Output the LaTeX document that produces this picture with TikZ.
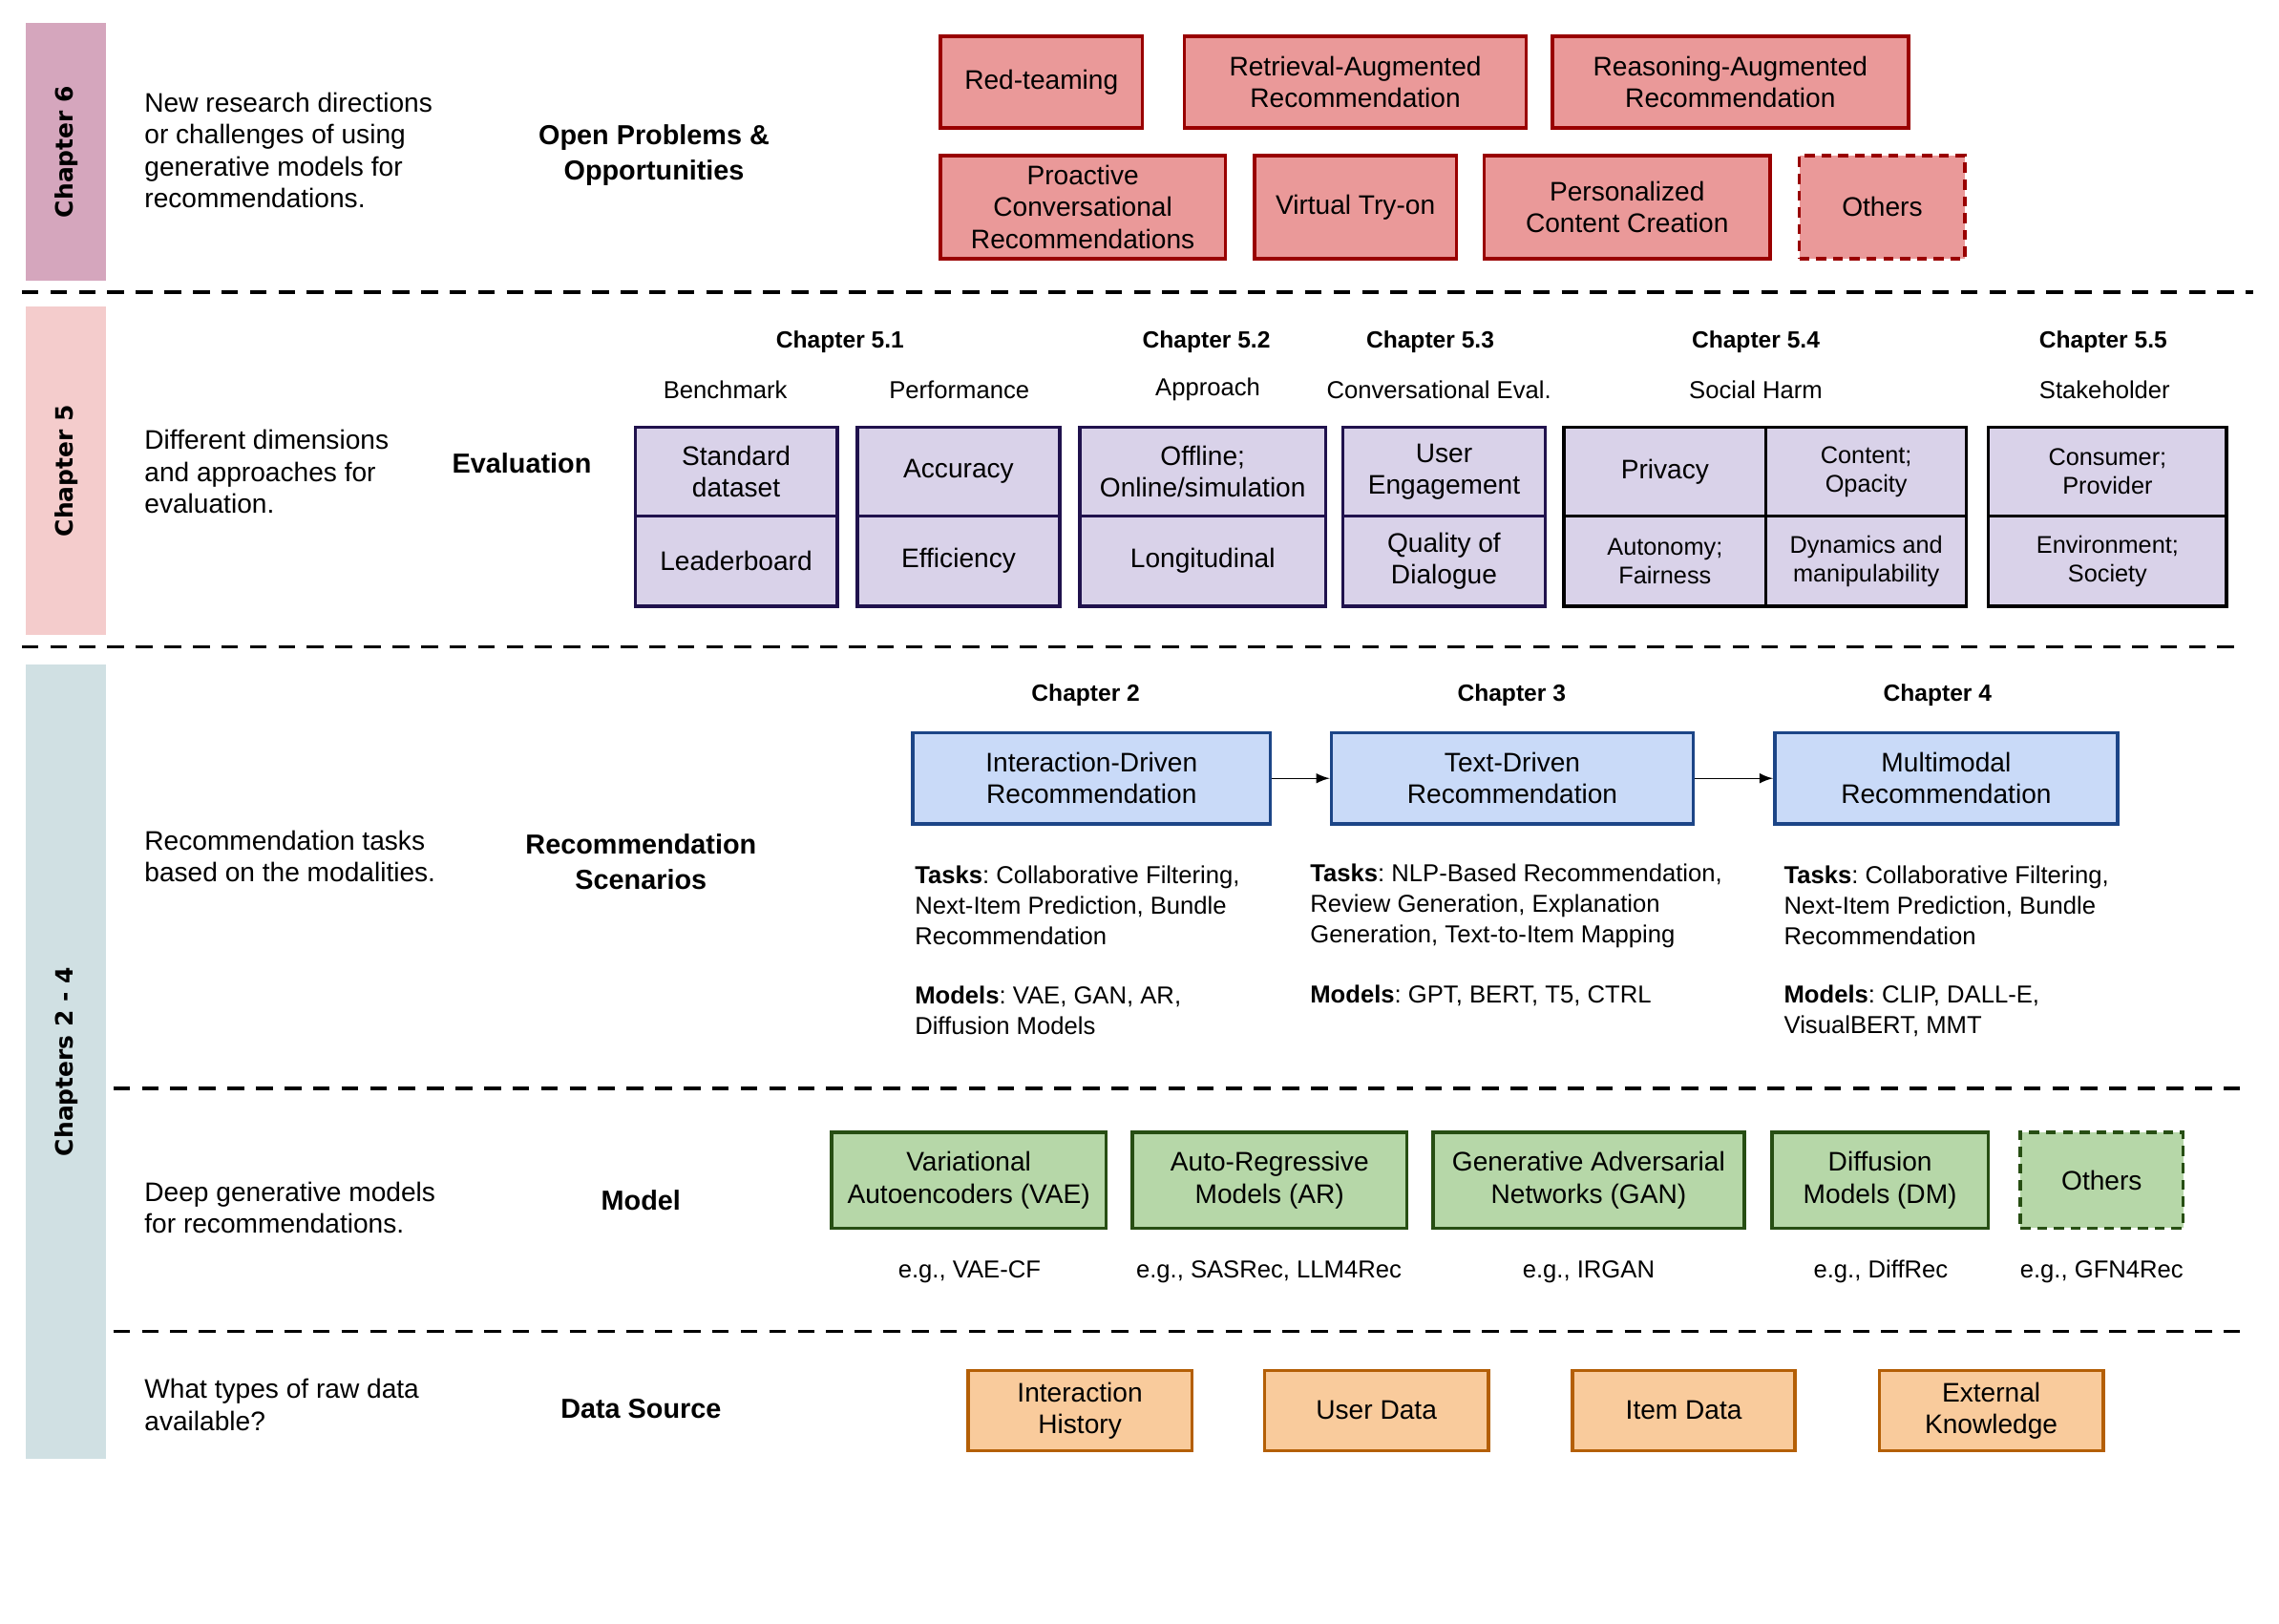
\documentclass[tikz,border=0pt]{standalone}
\usepackage{fontspec}
\setmainfont{Liberation Sans}
\newfontfamily\barfont{DejaVu Sans}
\usepackage{tikz}
\usepackage{xcolor}
\frenchspacing
\definecolor{chSixBar}{HTML}{D5A6BD}
\definecolor{chFiveBar}{HTML}{F4CCCC}
\definecolor{chTwoBar}{HTML}{D0E0E3}
\definecolor{redFill}{HTML}{EA9999}
\definecolor{redLine}{HTML}{990000}
\definecolor{evalFill}{HTML}{D9D2E9}
\definecolor{evalLine}{HTML}{20124D}
\definecolor{scenFill}{HTML}{C9DAF8}
\definecolor{scenLine}{HTML}{1C4587}
\definecolor{modelFill}{HTML}{B6D7A8}
\definecolor{modelLine}{HTML}{274E13}
\definecolor{dataFill}{HTML}{F9CB9C}
\definecolor{dataLine}{HTML}{B45F06}
\tikzset{
    box-size/.style 2 args = {minimum width=#1*0.015223cm, minimum height=#2*0.015223cm},
    chapter-bar/.style = {rectangle, inner sep=0pt, rotate=90, font=\barfont\bfseries\fontsize{7.1}{9}\selectfont},
    topic-box/.style = {rectangle, inner sep=1pt, line width=1pt, align=center, font=\fontsize{8}{9.5}\selectfont},
    red-box/.style = {topic-box, draw=redLine, fill=redFill},
    eval-box/.style = {topic-box, draw=evalLine, fill=evalFill},
    scen-box/.style = {topic-box, draw=scenLine, fill=scenFill},
    model-box/.style = {topic-box, draw=modelLine, fill=modelFill},
    data-box/.style = {topic-box, draw=dataLine, fill=dataFill},
    other-box/.style = {dash pattern=on 3pt off 2pt},
    small-text/.style = {font=\fontsize{7.2}{8.6}\selectfont},
    desc-text/.style = {anchor=west, align=left, inner sep=0pt, font=\fontsize{8}{9.5}\selectfont},
    row-title/.style = {align=center, inner sep=0pt, font=\bfseries\fontsize{8.2}{10.5}\selectfont},
    chap-title/.style = {inner sep=0pt, font=\bfseries\fontsize{7}{8}\selectfont},
    sub-title/.style = {inner sep=0pt, font=\fontsize{7.3}{8.5}\selectfont},
    task-text/.style = {anchor=west, align=left, inner sep=0pt, font=\fontsize{7.3}{9.1}\selectfont},
    separator/.style = {line width=1.1pt, dash pattern=on 5pt off 3.5pt},
}

\begin{document}
\begin{tikzpicture}[x=0.015223cm, y=-0.015223cm]
\useasboundingbox (0,0) rectangle (1568,1117);

\node[chapter-bar, fill=chSixBar, box-size={177}{55}] (ch6) at (45.5,104.5) {Chapter 6};
\node[chapter-bar, fill=chFiveBar, box-size={226}{55}] (ch5) at (45.5,324) {Chapter 5};
\node[chapter-bar, fill=chTwoBar, box-size={547}{55}] (ch24) at (45.5,730.5) {Chapters 2 - 4};

\draw[separator] (15,201) -- (1550,201);
\draw[separator] (15,445) -- (1540,445);
\draw[separator] (78,749) -- (1547,749);
\draw[separator] (78,916) -- (1547,916);

\node[desc-text] (desc6) at (99,103.5) {New research directions\\or challenges of using\\generative models for\\recommendations.};
\node[row-title] (open) at (450,107) {Open Problems \&\\Opportunities};

\node[red-box, box-size={139}{63}] (redteam) at (716.5,56.5) {Red-teaming};
\node[red-box, box-size={235}{63}] (retrieval) at (932.5,56.5) {Retrieval-Augmented\\Recommendation};
\node[red-box, box-size={245}{63}] (reasoning) at (1190.5,56.5) {Reasoning-Augmented\\Recommendation};
\node[red-box, box-size={196}{71}] (proactive) at (745,142.5) {Proactive\\Conversational\\Recommendations};
\node[red-box, box-size={139}{71}] (tryon) at (932.5,142.5) {Virtual Try-on};
\node[red-box, box-size={197}{71}] (creation) at (1119.5,142.5) {Personalized\\Content Creation};
\node[red-box, other-box, box-size={114}{71}] (others6) at (1295,142.5) {Others};

\node[desc-text] (desc5) at (99,324.5) {Different dimensions\\and approaches for\\evaluation.};
\node[row-title] (evaluation) at (359,319) {Evaluation};

\node[chap-title] (ch51) at (578,235) {Chapter 5.1};
\node[chap-title] (ch52) at (830,235) {Chapter 5.2};
\node[chap-title] (ch53) at (984,235) {Chapter 5.3};
\node[chap-title] (ch54) at (1208,235) {Chapter 5.4};
\node[chap-title] (ch55) at (1447,235) {Chapter 5.5};
\node[sub-title] (benchmark) at (499,268) {Benchmark};
\node[sub-title] (performance) at (660,268) {Performance};
\node[sub-title] (approach) at (831,268) {Approach};
\node[sub-title] (conversational) at (990,268) {Conversational Eval.};
\node[sub-title] (harm) at (1208,268) {Social Harm};
\node[sub-title] (stakeholder) at (1448,268) {Stakeholder};

\node[eval-box, box-size={139}{61}] (dataset) at (506.5,324.5) {Standard\\dataset};
\node[eval-box, box-size={139}{62}] (leaderboard) at (506.5,386) {Leaderboard};
\node[eval-box, box-size={139}{61}] (accuracy) at (659.5,324.5) {Accuracy};
\node[eval-box, box-size={139}{62}] (efficiency) at (659.5,386) {Efficiency};
\node[eval-box, box-size={169}{61}] (offline) at (827.5,324.5) {Offline;\\Online/simulation};
\node[eval-box, box-size={169}{62}] (longitudinal) at (827.5,386) {Longitudinal};
\node[eval-box, box-size={139}{61}] (engagement) at (993.5,324.5) {User\\Engagement};
\node[eval-box, box-size={139}{62}] (dialogue) at (993.5,386) {Quality of\\Dialogue};
\node[eval-box, draw=black, box-size={139}{61}] (privacy) at (1145.5,324.5) {Privacy};
\node[eval-box, draw=black, small-text, box-size={139}{62}] (autonomy) at (1145.5,386) {Autonomy;\\Fairness};
\node[eval-box, draw=black, small-text, box-size={138}{61}] (opacity) at (1284,324.5) {Content;\\Opacity};
\node[eval-box, draw=black, small-text, box-size={138}{62}] (dynamics) at (1284,386) {Dynamics and\\manipulability};
\node[eval-box, draw=black, small-text, box-size={164}{61}] (consumer) at (1450,324.5) {Consumer;\\Provider};
\node[eval-box, draw=black, small-text, box-size={164}{62}] (society) at (1450,386) {Environment;\\Society};

\node[desc-text] (desc24) at (99,589) {Recommendation tasks\\based on the modalities.};
\node[row-title] (scenarios) at (441,593) {Recommendation\\Scenarios};

\node[chap-title] (ch2) at (747,478) {Chapter 2};
\node[chap-title] (ch3) at (1040,478) {Chapter 3};
\node[chap-title] (ch4) at (1333,478) {Chapter 4};

\node[scen-box, box-size={246}{63}] (interaction) at (751,535.5) {Interaction-Driven\\Recommendation};
\node[scen-box, box-size={249}{63}] (textdriven) at (1040.5,535.5) {Text-Driven\\Recommendation};
\node[scen-box, box-size={236}{63}] (multimodal) at (1339,535.5) {Multimodal\\Recommendation};
\draw[-latex, thin] (interaction) -- (textdriven);
\draw[-latex, thin] (textdriven) -- (multimodal);

\node[task-text] (tasks2) at (629,623) {\textbf{Tasks}: Collaborative Filtering,\\Next-Item Prediction, Bundle\\Recommendation};
\node[task-text] (models2) at (629,695.5) {\textbf{Models}: VAE, GAN, AR,\\Diffusion Models};
\node[task-text] (tasks3) at (901,623) {\textbf{Tasks}: NLP-Based Recommendation,\\Review Generation, Explanation\\Generation, Text-to-Item Mapping};
\node[task-text] (models3) at (901,685) {\textbf{Models}: GPT, BERT, T5, CTRL};
\node[task-text] (tasks4) at (1227,623) {\textbf{Tasks}: Collaborative Filtering,\\Next-Item Prediction, Bundle\\Recommendation};
\node[task-text] (models4) at (1227,695.5) {\textbf{Models}: CLIP, DALL-E,\\VisualBERT, MMT};

\node[desc-text] (descmodel) at (99,831) {Deep generative models\\for recommendations.};
\node[row-title] (model) at (441,826) {Model};

\node[model-box, box-size={189}{66}] (vae) at (666.5,812) {Variational\\Autoencoders (VAE)};
\node[model-box, box-size={189}{66}] (ar) at (873.5,812) {Auto-Regressive\\Models (AR)};
\node[model-box, box-size={214}{66}] (gan) at (1093,812) {Generative Adversarial\\Networks (GAN)};
\node[model-box, box-size={149}{66}] (dm) at (1293.5,812) {Diffusion\\Models (DM)};
\node[model-box, other-box, box-size={112}{66}] (othersmodel) at (1446,812) {Others};
\node[sub-title] (egvae) at (667,875) {e.g., VAE-CF};
\node[sub-title] (egar) at (873,875) {e.g., SASRec, LLM4Rec};
\node[sub-title] (eggan) at (1093,875) {e.g., IRGAN};
\node[sub-title] (egdm) at (1294,875) {e.g., DiffRec};
\node[sub-title] (egothers) at (1446,875) {e.g., GFN4Rec};

\node[desc-text] (descdata) at (99,966.5) {What types of raw data\\available?};
\node[row-title] (datasource) at (441,969) {Data Source};

\node[data-box, box-size={154}{55}] (history) at (743,970.5) {Interaction\\History};
\node[data-box, box-size={154}{55}] (userdata) at (947,970.5) {User Data};
\node[data-box, box-size={153}{55}] (itemdata) at (1158.5,970.5) {Item Data};
\node[data-box, box-size={154}{55}] (external) at (1370,970.5) {External\\Knowledge};
\end{tikzpicture}
\end{document}
